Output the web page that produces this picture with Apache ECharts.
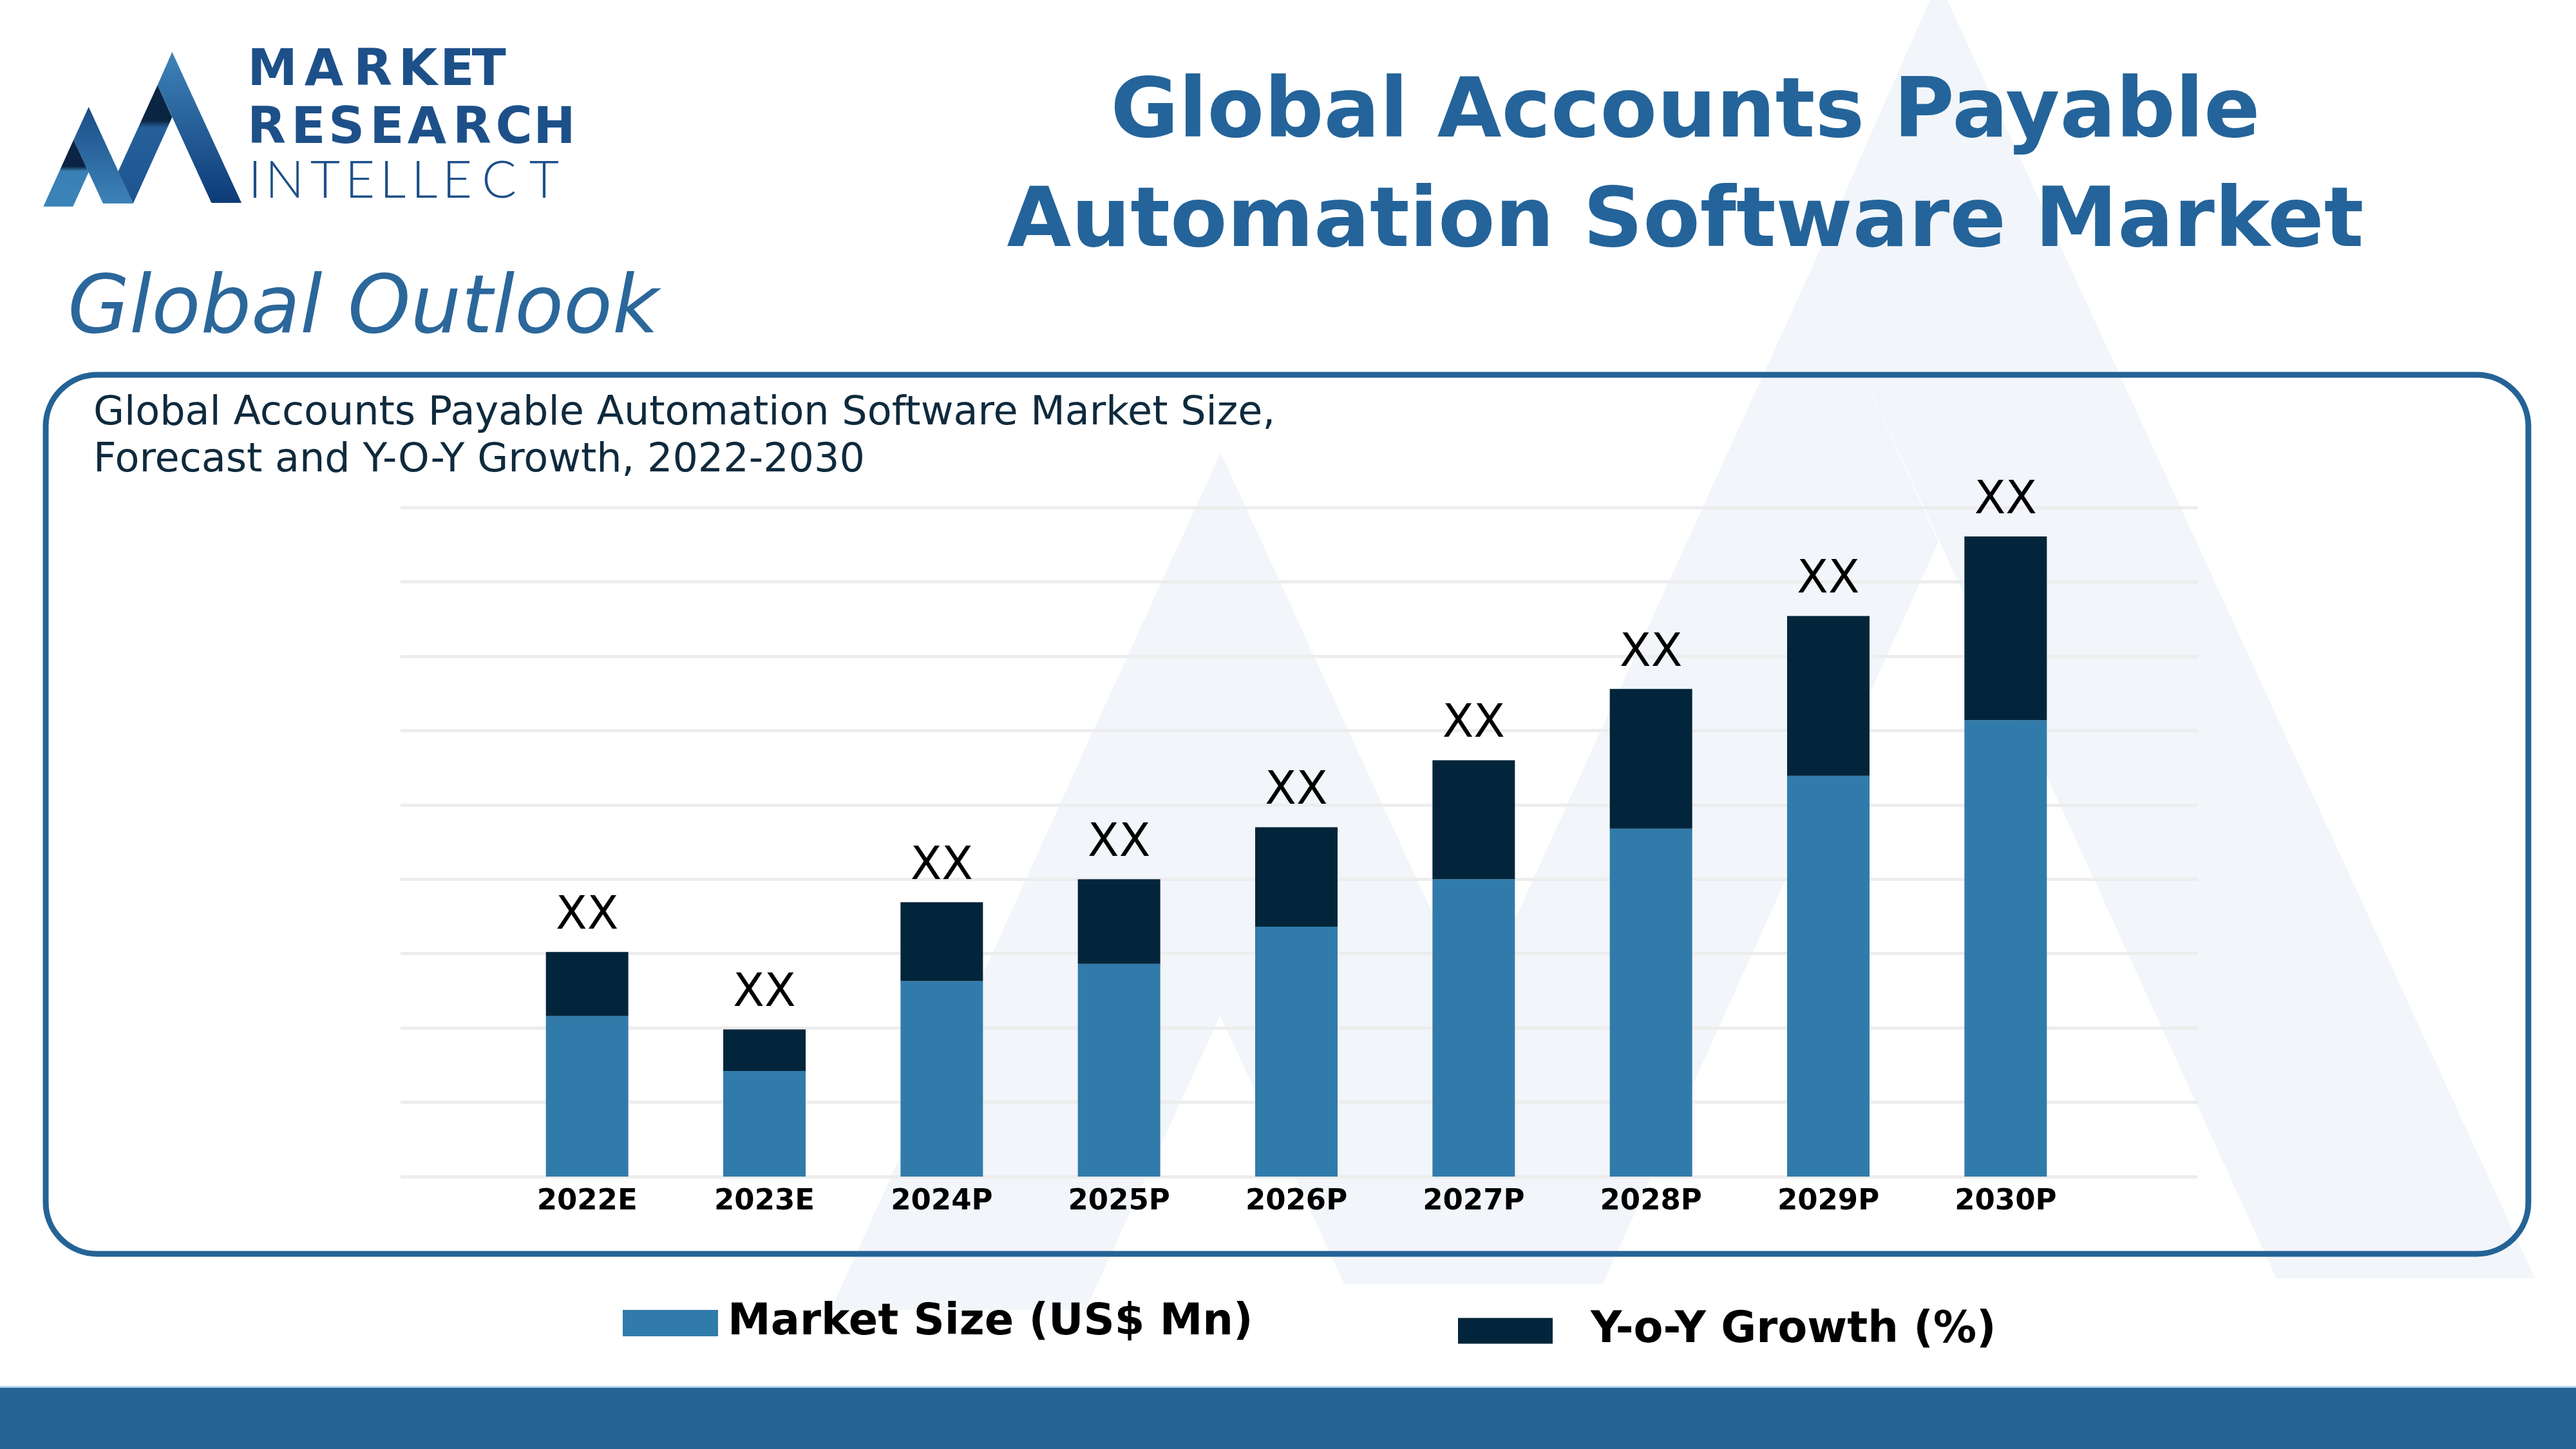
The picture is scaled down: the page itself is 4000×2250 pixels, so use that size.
<!DOCTYPE html>
<html><head><meta charset="utf-8">
<script src="https://cdn.jsdelivr.net/npm/echarts@6/dist/echarts.min.js"></script>
<style>html,body{margin:0;padding:0;background:#fff}#c{width:4000px;height:2250px}</style>
</head><body><div id="c"></div>
<script>
// ---- data ----
const categories = ['2022E','2023E','2024P','2025P','2026P','2027P','2028P','2029P','2030P'];
const marketSize = [21.6, 14.2, 26.3, 28.6, 33.6, 40.0, 46.8, 53.9, 61.4];
const yoyGrowth  = [8.6, 5.6, 10.6, 11.4, 13.4, 16.0, 18.8, 21.5, 24.7];
const barLabels  = ['XX','XX','XX','XX','XX','XX','XX','XX','XX'];
const seriesNames = ['Market Size (US$ Mn)', 'Y-o-Y Growth (%)'];
const yMin = 0, yMax = 90, yInterval = 10;

// ---- decoration (logo geometry in logo space) ----
const logoPolys = [
  {pts:[[114.3,217],[137.7,267.3],[113.3,320.7],[67.3,320.7]], stops:[[0,'#0b2443'],[0.4,'#0b2443'],[0.47,'#3a80b4'],[1,'#3b84b8']]},
  {pts:[[244.7,132],[267.3,182],[206.7,316],[183.3,266.7]], stops:[[0,'#0a2542'],[0.3,'#0a2542'],[0.36,'#25609b'],[1,'#1c5490']]},
  {pts:[[137.7,166],[206.7,316],[160,316],[114.3,217]], stops:[[0,'#1b4d87'],[1,'#3c83b7']]},
  {pts:[[267.3,80.7],[375,315],[328.3,315],[244.7,132]], stops:[[0,'#3f83b8'],[1,'#0d3b77']]}
];
const wmT = p => [3010 + (p[0]-267.3)*8.6, -30 + (p[1]-80.7)*8.6];

const FONT = '"DejaVu Sans", sans-serif';
const graphics = [];
// watermark
logoPolys.forEach(lp => graphics.push({type:'polygon', silent:true, z:-10, shape:{points: lp.pts.map(wmT)}, style:{fill:'#f2f5f9'}}));
// logo
logoPolys.forEach(lp => graphics.push({type:'polygon', silent:true, z:5, shape:{points: lp.pts},
  style:{fill:{type:'linear',x:0,y:0,x2:0,y2:1,colorStops: lp.stops.map(s=>({offset:s[0],color:s[1]}))}}}));
function letters(word, centers, y, font){
  word.split('').forEach((ch,i)=>graphics.push({type:'text', silent:true, z:5, x:centers[i], y:y,
    style:{text:ch, font:font, fill:'#1d5089', align:'center', verticalAlign:'middle'}}));
}
letters('MARKET',[423,503,579,649,710,759],112,'bold 78px '+FONT);
letters('RESEARCH',[414,479,538,601,663,733,798,861],202,'bold 78px '+FONT);
letters('INTELLECT',[396,442,505,559,610,659,710,775,845],281,'300 80px Lato, sans-serif');
// texts
function txt(t,x,y,font,fill,align){graphics.push({type:'text',silent:true,z:5,x:x,y:y,style:{text:t,font:font,fill:fill,align:align||'left',verticalAlign:'middle'}});}
txt('Global Accounts Payable',2617,178,'bold 129px '+FONT,'#24649a','center');
txt('Automation Software Market',2617,348,'bold 129px '+FONT,'#24649a','center');
txt('Global Outlook',105,484,'oblique 124px '+FONT,'#2b679b');
txt('Global Accounts Payable Automation Software Market Size,',145,643,'62px '+FONT,'#0f2a3d');
txt('Forecast and Y-O-Y Growth, 2022-2030',145,716,'62px '+FONT,'#0f2a3d');
// frame
graphics.push({type:'rect',silent:true,z:6,shape:{x:71,y:582,width:3855,height:1365,r:80},style:{fill:'none',stroke:'#246396',lineWidth:9}});
// bottom bar
graphics.push({type:'rect',silent:true,z:6,shape:{x:0,y:2152,width:4000,height:3},style:{fill:'#b9d6ec'}});
graphics.push({type:'rect',silent:true,z:6,shape:{x:0,y:2155,width:4000,height:95},style:{fill:'#246394'}});

const chart = echarts.init(document.getElementById('c'), null, {renderer:'canvas'});
chart.setOption({
  animation:false,
  backgroundColor:'#ffffff',
  grid:[
    {left:622, right:587, top:788, bottom:423},
    {left:774, right:748, top:788, bottom:423}
  ],
  xAxis:[
    {type:'category', gridIndex:0, data:categories, show:false},
    {type:'category', gridIndex:1, data:categories, axisLine:{show:false}, axisTick:{show:false},
     axisLabel:{interval:0, fontFamily:FONT, fontWeight:'bold', fontSize:45, lineHeight:45, color:'#000', margin:17}}
  ],
  yAxis:[
    {type:'value', gridIndex:0, min:yMin, max:yMax, interval:yInterval, z:0,
     axisLabel:{show:false}, axisLine:{show:false}, axisTick:{show:false},
     splitLine:{show:true, lineStyle:{color:'#ededed', width:5}}},
    {type:'value', gridIndex:1, min:yMin, max:yMax, interval:yInterval, show:false, splitLine:{show:false}}
  ],
  legend:[
    {data:[seriesNames[0]], left:967, top:2021, padding:0, selectedMode:false, icon:'rect', itemWidth:148, itemHeight:41,
     textStyle:{fontFamily:FONT, fontWeight:'bold', fontSize:67, lineHeight:41, color:'#000', padding:[0,0,0,10]}},
    {data:[seriesNames[1]], left:2264, top:2033, padding:0, selectedMode:false, icon:'rect', itemWidth:147, itemHeight:40,
     textStyle:{fontFamily:FONT, fontWeight:'bold', fontSize:67, lineHeight:40, color:'#000', padding:[0,0,0,54]}}
  ],
  series:[
    {name:seriesNames[0], type:'bar', stack:'total', xAxisIndex:1, yAxisIndex:1, data:marketSize, barWidth:128,
     itemStyle:{color:'#317bab'}},
    {name:seriesNames[1], type:'bar', stack:'total', xAxisIndex:1, yAxisIndex:1, data:yoyGrowth, barWidth:128,
     itemStyle:{color:'#03253b'},
     label:{show:true, position:'top', distance:19, formatter:p=>barLabels[p.dataIndex],
            fontFamily:FONT, fontSize:71, lineHeight:71, color:'#000'}}
  ],
  graphic: graphics
});
</script></body></html>
